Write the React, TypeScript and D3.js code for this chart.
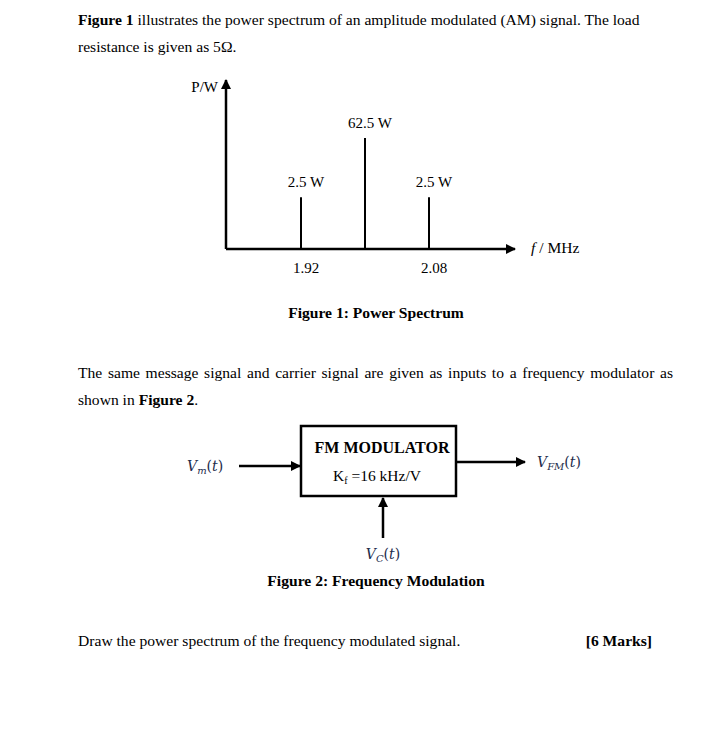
import React, { useEffect, useRef } from "react";
import * as d3 from "d3";

// ---- data ----
const freqs = [1.92, 2.0, 2.08];
const powers = [2.5, 62.5, 2.5];
const powerLabels = ["2.5 W", "62.5 W", "2.5 W"];
const tickFreqs = [1.92, 2.08];
const tickLabels = ["1.92", "2.08"];

const para1 = [
  "illustrates the power spectrum of an amplitude modulated (AM) signal. The load",
  "resistance is given as 5Ω.",
];
const para2 = [
  "The same message signal and carrier signal are given as inputs to a frequency modulator as",
  "shown in ",
];

const SERIF = "'Liberation Serif', 'Times New Roman', serif";
const MATH = "'DejaVu Serif', 'Liberation Serif', serif";
const INK = "#000";
const MATHINK = "#1d2c4c";
const FS = 15.6;

export default function App() {
  const justifyRef = useRef<SVGTextElement | null>(null);

  useEffect(() => {
    const el = justifyRef.current;
    if (!el) return;
    el.setAttribute("word-spacing", "0");
    const w = el.getComputedTextLength();
    const target = 673 - 78;
    const spaces = (para2[0].match(/ /g) || []).length;
    if (spaces > 0) el.setAttribute("word-spacing", String((target - w) / spaces));
  }, []);

  // scales
  const x = d3.scaleLinear().domain([1.92, 2.08]).range([301, 429]);
  const y = d3.scaleLog().domain([0.15, 62.5]).range([249, 138]);

  const axisY = 249;
  const axisX0 = 226;
  const axisX1 = 515;
  const axisTop = 80;

  return (
    <svg
      width={715}
      height={745}
      style={{ position: "absolute", left: 0, top: 0, background: "#fff" }}
      fontFamily={SERIF}
    >
      <defs>
        <marker id="ah" viewBox="0 0 10 10" refX="9" refY="5" markerWidth="4" markerHeight="4" orient="auto">
          <path d="M0,0 L10,5 L0,10 z" fill={INK} />
        </marker>
        <marker id="ah2" viewBox="0 0 10 10" refX="9" refY="5" markerWidth="5" markerHeight="4" orient="auto">
          <path d="M0,0 L10,5 L0,10 z" fill={INK} />
        </marker>
      </defs>

      {/* paragraph 1 */}
      <text x={78} y={25} fontSize={FS} fill={INK}>
        <tspan fontWeight="bold">Figure 1</tspan> {para1[0]}
      </text>
      <text x={78} y={52} fontSize={FS} fill={INK}>
        {para1[1]}
      </text>

      {/* Figure 1 axes */}
      <line x1={axisX0} y1={axisY} x2={axisX0} y2={axisTop} stroke={INK} strokeWidth={2.5} markerEnd="url(#ah)" />
      <line x1={axisX0} y1={axisY} x2={axisX1} y2={axisY} stroke={INK} strokeWidth={2.5} markerEnd="url(#ah)" />
      <text x={218} y={92} fontSize={15} textAnchor="end" fill={INK}>P/W</text>
      <text x={531} y={253} fontSize={15.5} fill={INK}>
        <tspan fontStyle="italic">f</tspan>
        <tspan dx={4}>/ MHz</tspan>
      </text>

      {freqs.map((f, i) => (
        <g key={i}>
          <line x1={x(f)} x2={x(f)} y1={axisY} y2={y(powers[i])} stroke={INK} strokeWidth={2} />
          <text x={x(f) + 5} y={y(powers[i]) - 10} fontSize={15} textAnchor="middle" fill={INK}>
            {powerLabels[i]}
          </text>
        </g>
      ))}
      {tickFreqs.map((f, i) => (
        <text key={i} x={x(f) + 5} y={273} fontSize={15} textAnchor="middle" fill={INK}>
          {tickLabels[i]}
        </text>
      ))}

      <text x={376} y={318} fontSize={FS} fontWeight="bold" textAnchor="middle" fill={INK}>
        Figure 1: Power Spectrum
      </text>

      {/* paragraph 2 */}
      <text ref={justifyRef} x={78} y={378} fontSize={FS} fill={INK}>
        {para2[0]}
      </text>
      <text x={78} y={405} fontSize={FS} fill={INK}>
        {para2[1]}
        <tspan fontWeight="bold">Figure 2</tspan>.
      </text>

      {/* Figure 2 block diagram */}
      <rect x={301} y={426} width={155} height={70} fill="none" stroke={INK} strokeWidth={2.5} />
      <text x={382} y={453} fontSize={16} fontWeight="bold" textAnchor="middle" fill={INK}>
        FM MODULATOR
      </text>
      <text x={377} y={481} fontSize={15.5} textAnchor="middle" fill={INK}>
        K<tspan fontSize={10} dy={3}>f</tspan>
        <tspan dy={-3}> =16 kHz/V</tspan>
      </text>

      <line x1={239} y1={466} x2={300} y2={466} stroke={INK} strokeWidth={2.5} markerEnd="url(#ah2)" />
      <line x1={457} y1={462} x2={525} y2={462} stroke={INK} strokeWidth={2.5} markerEnd="url(#ah2)" />
      <line x1={383} y1={538} x2={383} y2={498} stroke={INK} strokeWidth={2.5} markerEnd="url(#ah2)" />

      <text x={187} y={471} fontSize={14} fill={MATHINK} fontFamily={MATH}>
        <tspan fontStyle="italic">V</tspan>
        <tspan fontStyle="italic" fontSize={10} dy={3}>m</tspan>
        <tspan dy={-3}>(</tspan>
        <tspan fontStyle="italic">t</tspan>)
      </text>
      <text x={537} y={467} fontSize={14} fill={MATHINK} fontFamily={MATH}>
        <tspan fontStyle="italic">V</tspan>
        <tspan fontStyle="italic" fontSize={10} dy={3}>FM</tspan>
        <tspan dy={-3}>(</tspan>
        <tspan fontStyle="italic">t</tspan>)
      </text>
      <text x={383} y={559} fontSize={14} fill={MATHINK} fontFamily={MATH} textAnchor="middle">
        <tspan fontStyle="italic">V</tspan>
        <tspan fontStyle="italic" fontSize={10} dy={3}>C</tspan>
        <tspan dy={-3}>(</tspan>
        <tspan fontStyle="italic">t</tspan>)
      </text>

      <text x={376} y={586} fontSize={FS} fontWeight="bold" textAnchor="middle" fill={INK}>
        Figure 2: Frequency Modulation
      </text>

      <text x={78} y={646} fontSize={FS} fill={INK}>
        Draw the power spectrum of the frequency modulated signal.
      </text>
      <text x={652} y={646} fontSize={FS} fontWeight="bold" textAnchor="end" fill={INK}>
        [6 Marks]
      </text>
    </svg>
  );
}
